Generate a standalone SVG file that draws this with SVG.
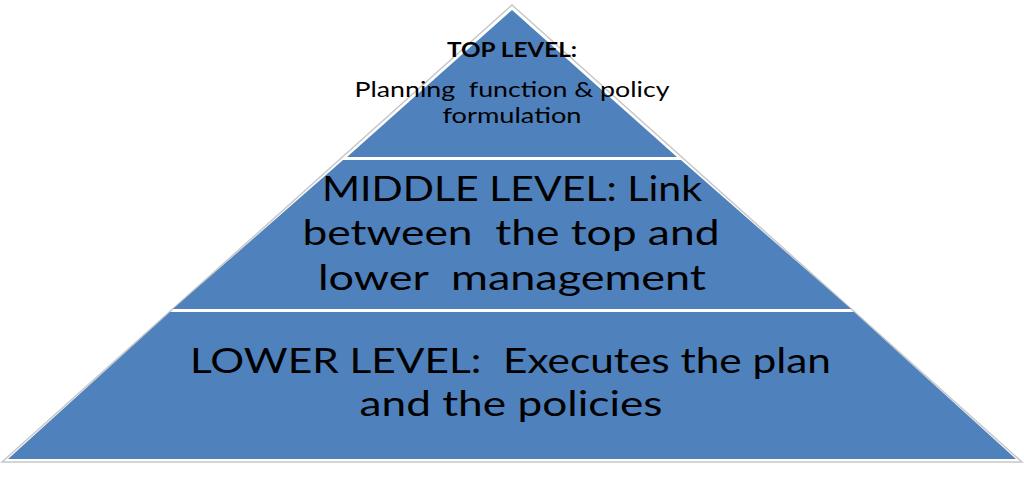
<svg xmlns="http://www.w3.org/2000/svg" width="1024" height="482" viewBox="0 0 1024 482">
<style>
.tier{fill:#4F81BD;}
.t{font-family:Lato,"Open Sans","Liberation Sans",sans-serif;fill:#000;}
.big{font-size:35px;}
.sm{font-size:21px;}
</style>
<rect width="1024" height="482" fill="#fff"/>
<polygon points="512,5 2,462 1022,462" fill="none" stroke="#c8c8c8" stroke-width="1.5"/>
<g id="top">
<polygon class="tier" points="512,10 347,157 677,157"/>
<text class="t sm" x="512" y="57" text-anchor="middle" font-weight="bold" textLength="130" lengthAdjust="spacingAndGlyphs">TOP LEVEL:</text>
<text class="t sm" x="512" y="97" text-anchor="middle" textLength="315" lengthAdjust="spacingAndGlyphs" xml:space="preserve">Planning  function &amp; policy</text>
<text class="t sm" x="512" y="123" text-anchor="middle" textLength="139" lengthAdjust="spacingAndGlyphs">formulation</text>
</g>
<g id="middle">
<polygon class="tier" points="343,160 681,160 851,309 173,309"/>
<text class="t big" x="512" y="201" text-anchor="middle" textLength="380" lengthAdjust="spacingAndGlyphs">MIDDLE LEVEL: Link</text>
<text class="t big" x="511" y="245" text-anchor="middle" textLength="417" lengthAdjust="spacingAndGlyphs" xml:space="preserve">between  the top and</text>
<text class="t big" x="512" y="290" text-anchor="middle" textLength="388" lengthAdjust="spacingAndGlyphs" xml:space="preserve">lower  management</text>
</g>
<g id="lower">
<polygon class="tier" points="170,312 854,312 1016,459 8,459"/>
<text class="t big" x="190" y="373" textLength="641" lengthAdjust="spacingAndGlyphs" xml:space="preserve">LOWER LEVEL:  Executes the plan</text>
<text class="t big" x="511" y="416" text-anchor="middle" textLength="303" lengthAdjust="spacingAndGlyphs">and the policies</text>
</g>
<g id="connectors"></g>
</svg>
